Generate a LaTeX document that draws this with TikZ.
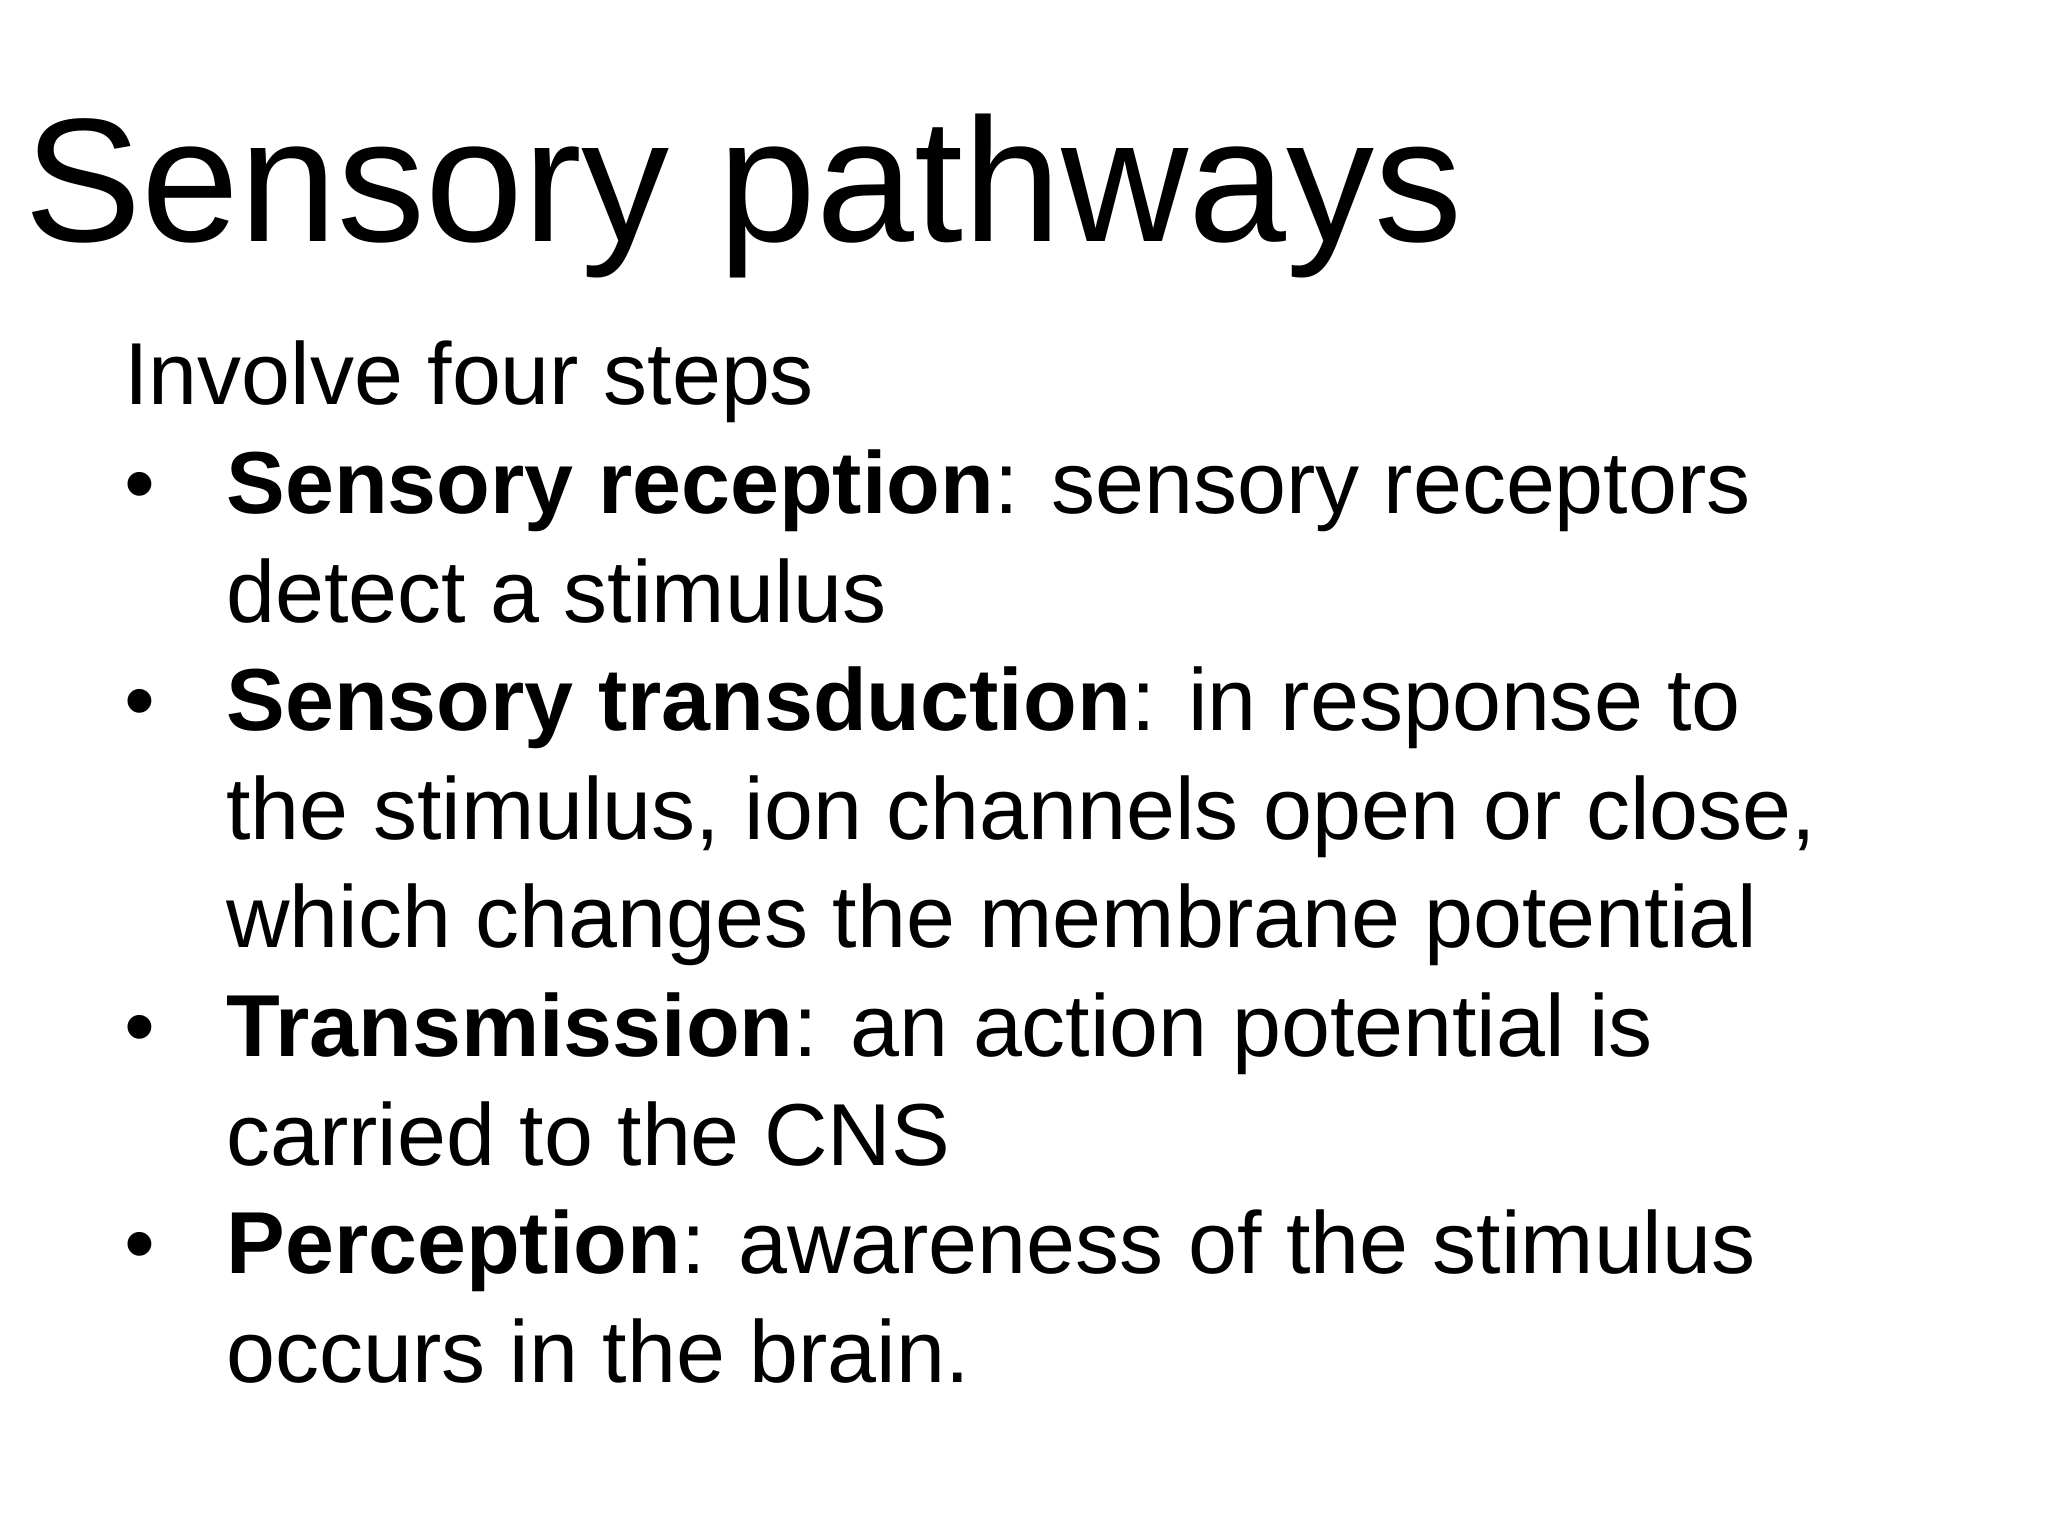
\documentclass[tikz,border=0pt]{standalone}
\usepackage{fontspec}
\setmainfont{Liberation Sans}
\begin{document}
\begin{tikzpicture}[x=1pt,y=-1pt,
  body/.style={anchor=base west,inner sep=0pt,font=\fontsize{44}{52}\selectfont},
  bul/.style={anchor=base west,inner sep=0pt,font=\fontsize{44}{52}\selectfont}]
\useasboundingbox (0,0) rectangle (1024,768);
\node[anchor=base west,inner sep=0pt,font=\fontsize{88}{100}\selectfont] (title) at (12,120.8) {Sensory pathways};
\node[body] (intro) at (62,202.4) {Involve four steps};
\node[bul] (b1) at (62,256.7) {•};
\node[body] (l1) at (113,256.7) {\textbf{Sensory reception}: sensory receptors};
\node[body] (l2) at (113,311) {detect a stimulus};
\node[bul] (b2) at (62,365.3) {•};
\node[body] (l3) at (113,365.3) {\textbf{Sensory transduction}: in response to};
\node[body] (l4) at (113,419.6) {the stimulus, ion channels open or close,};
\node[body] (l5) at (113,473.9) {which changes the membrane potential};
\node[bul] (b3) at (62,528.2) {•};
\node[body] (l6) at (113,528.2) {\textbf{Transmission}: an action potential is};
\node[body] (l7) at (113,582.5) {carried to the CNS};
\node[bul] (b4) at (62,636.8) {•};
\node[body] (l8) at (113,636.8) {\textbf{Perception}: awareness of the stimulus};
\node[body] (l9) at (113,691.1) {occurs in the brain.};
\end{tikzpicture}
\end{document}
